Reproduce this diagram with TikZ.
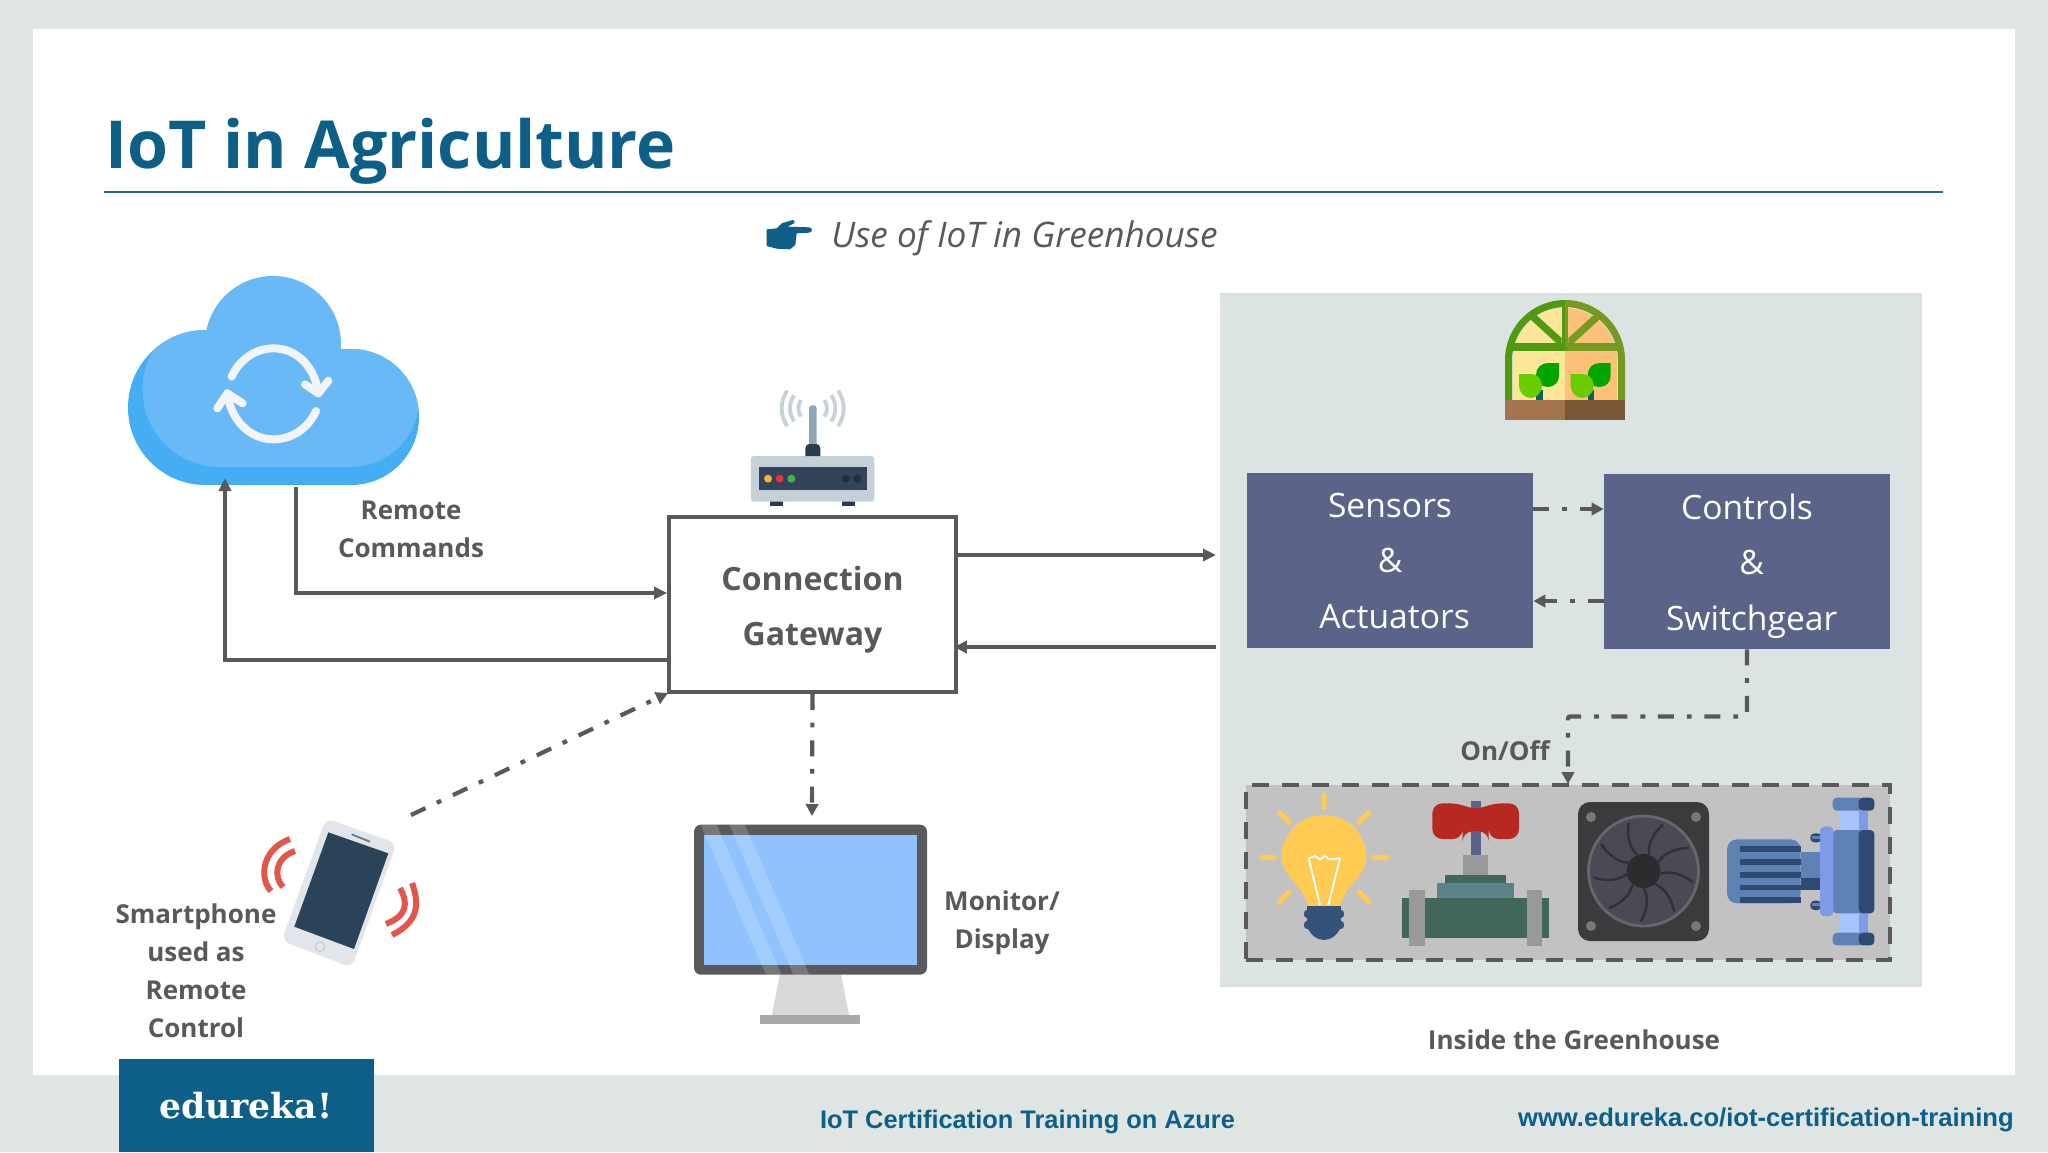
\documentclass[tikz,border=0pt]{standalone}
\usepackage{fontspec}
\setmainfont{Open Sans}
\newfontfamily\arialb{Liberation Sans}[BoldFont={Liberation Sans Bold}]
\newfontfamily\slabf{DejaVu Serif}
\usetikzlibrary{arrows.meta,calc}
\definecolor{pagebg}{HTML}{DEE5E3}
\definecolor{brand}{HTML}{0E5F87}
\definecolor{rulec}{HTML}{2F6B7E}
\definecolor{txt}{HTML}{595959}
\definecolor{conn}{HTML}{595959}
\definecolor{cloudA}{HTML}{45ADF3}
\definecolor{cloudB}{HTML}{68B9F5}
\definecolor{synw}{HTML}{F2F4F7}
\definecolor{slate}{HTML}{5B6488}
\definecolor{ghpanel}{HTML}{DCE3E3}
\definecolor{devbox}{HTML}{C2C2C2}
\definecolor{pumpA}{HTML}{5F82B4}
\definecolor{pumpB}{HTML}{2F4A72}
\definecolor{pumpC}{HTML}{7F9BE8}
\definecolor{pumpD}{HTML}{A8C4FF}
\definecolor{redarc}{HTML}{E2574C}
\tikzset{
  x=0.5pt,y=-0.5pt,
  hexc/.code={\definecolor{tmpc}{HTML}{#1}\pgfkeysalso{/tikz/color=tmpc}},
  zoomat/.style={shift={(#1)},x=0.16667pt,y=-0.16667pt},
  lbl/.style={inner sep=0pt,align=center,text=txt,font=\bfseries\fontsize{13}{19}\selectfont},
  boxtxt/.style={inner sep=0pt,align=center,text=white,font=\fontsize{16.8}{27.75}\selectfont},
  solidconn/.style={draw=conn,line width=1.8pt,-{Triangle[length=6.5pt,width=6pt]}},
  dashconn/.style={draw=conn,line width=2.1pt,dash pattern=on 8pt off 6.3pt on 2.4pt off 6.5pt,-{Triangle[length=6pt,width=6.2pt]}},
  slatebox/.style={fill=slate,inner sep=0pt},
}
\begin{document}
\begin{tikzpicture}
\useasboundingbox (0,0) rectangle (2048,1152);
\fill[pagebg] (0,0) rectangle (2048,1152);
\fill[white] (33,29) rectangle (2015,1075);
% title
\node[anchor=base west,inner sep=0pt,text=brand,font=\bfseries\fontsize{33.1}{36}\selectfont] (title) at (105,168) {IoT in Agriculture};
\coordinate (ruleL) at (104,192);
\coordinate (ruleR) at (1943,192);
\draw[rulec,line width=1pt] (ruleL) -- (ruleR);
\node[anchor=base west,inner sep=0pt,text=txt,font=\itshape\fontsize{17.6}{20}\selectfont] (subtitle) at (831,247.5) {Use of IoT in Greenhouse};
% hand
\begin{scope}[zoomat={680,200}]
\fill[brand] (260,88) -- (290,85) -- (305,70) -- (338,60) .. controls (346,62) and (346,70) .. (338,72) -- (322,80) -- (388,82) .. controls (398,84) and (398,96) .. (388,98) -- (350,100) -- (346,135) -- (330,148) -- (290,146) -- (260,138) -- cycle;
\end{scope}
% cloud
\fill[cloudA] (205.5,407.5) circle[radius=77.5];
\fill[cloudA] (351,417) circle[radius=68];
\fill[cloudA] (205.5,349) rectangle (351,485);
\fill[cloudB] (273,344) circle[radius=68];
\begin{scope}
\clip (205.5,407.5) circle[radius=77.5];
\fill[cloudB] (220,389.5) circle[radius=77.5];
\end{scope}
\begin{scope}
\clip (351,417) circle[radius=68];
\fill[cloudB] (351,399) circle[radius=68];
\end{scope}
\fill[cloudB] (220,349.5) rectangle (351,467);
\begin{scope}[zoomat={100,250}]
\draw[synw,line width=4pt,line cap=round,line join=round] (395,380) .. controls (420,325) and (470,295) .. (520,295) .. controls (590,295) and (645,350) .. (655,430);
\draw[synw,line width=4pt,line cap=round,line join=round] (615,403) -- (655,430) -- (685,392);
\draw[synw,line width=4pt,line cap=round,line join=round] (648,483) .. controls (625,535) and (575,568) .. (520,568) .. controls (450,568) and (392,510) .. (382,430);
\draw[synw,line width=4pt,line cap=round,line join=round] (352,475) -- (382,430) -- (428,460);
\end{scope}
% router
\begin{scope}[zoomat={680,200}]
\foreach \ra in {43,68,93}{
  \draw[hexc=C8D1D5,line width=1.9pt] ($(398,625)+(35:\ra)$) arc[start angle=35,end angle=-35,radius=\ra];
  \draw[hexc=C8D1D5,line width=1.9pt] ($(398,625)+(145:\ra)$) arc[start angle=145,end angle=215,radius=\ra];
}
\fill[hexc=2B3A4E] (270,900) rectangle (310,917);
\fill[hexc=2B3A4E] (486,900) rectangle (526,917);
\fill[hexc=C4D1D9,rounded corners=1.5pt] (213,768) rectangle (583,905);
\fill[hexc=33435A] (236,802) rectangle (560,870);
\fill[hexc=8FA6B8,rounded corners=1.5pt] (387,616) rectangle (410,740);
\fill[hexc=2B3A4E] (376,768) -- (376,745) .. controls (376,737) and (382,732) .. (388,732) -- (409,732) .. controls (415,732) and (421,737) .. (421,745) -- (421,768) -- cycle;
\fill[hexc=F5B335] (264,836) circle[radius=12];
\fill[hexc=E8303A] (299,836) circle[radius=12];
\fill[hexc=3FB54A] (334,836) circle[radius=12];
\fill[hexc=1E2E44] (497,836) circle[radius=12];
\fill[hexc=1E2E44] (532,836) circle[radius=12];
\end{scope}
% gateway
\node[draw=conn,line width=1.9pt,fill=white,minimum width=143.5pt,minimum height=87.5pt,inner sep=0pt,align=center,text=txt,font=\bfseries\fontsize{16}{27.5}\selectfont] (gateway) at (812.5,604.5) {\rule{0pt}{17.7pt}Connection\\Gateway};
% greenhouse panel
\node[fill=ghpanel,draw=black!12,line width=.5pt,minimum width=350.5pt,minimum height=346.5pt,inner sep=0pt] (panel) at (1570.5,639.5) {};
% greenhouse icon
\begin{scope}
\fill[hexc=FDE59A] (1565,308) arc[start angle=-90,end angle=-180,radius=52] -- (1513,400) -- (1565,400) -- cycle;
\fill[hexc=FDC27A] (1565,308) arc[start angle=-90,end angle=0,radius=52] -- (1617,400) -- (1565,400) -- cycle;
\fill[hexc=4F9A10,even odd rule] (1565,300) arc[start angle=-90,end angle=-180,radius=60] -- (1505,400) -- (1512,400) -- (1512,360) arc[start angle=-180,end angle=-90,radius=53] -- (1565,300);
\fill[hexc=76991F] (1565,300) arc[start angle=-90,end angle=0,radius=60] -- (1625,400) -- (1618,400) -- (1618,360) arc[start angle=0,end angle=-90,radius=53] -- (1565,300);
\fill[hexc=4F9A10] (1510,343) rectangle (1565,351);
\fill[hexc=76991F] (1565,343) rectangle (1620,351);
\fill[hexc=4F9A10] (1561.7,300) rectangle (1565,351);
\fill[hexc=76991F] (1565,300) rectangle (1568.3,351);
\fill[hexc=4F9A10] (1561.7,338) -- (1561.7,348) -- (1530,319) -- (1534,313) -- cycle;
\fill[hexc=76991F] (1568.3,338) -- (1568.3,348) -- (1600,319) -- (1596,313) -- cycle;
\fill[hexc=A3754F] (1505,400) rectangle (1565,420);
\fill[hexc=795736] (1565,400) rectangle (1625,420);
\foreach \d in {0,51.7}{
  \begin{scope}[xshift=\d*0.5pt]
  \fill[hexc=0E5F5F] (1536,390) rectangle (1542.5,400);
  \fill[hexc=00A500] (1559,363) -- (1548,363) .. controls (1541,363) and (1536,368) .. (1536,375) .. controls (1536,382) and (1541,387) .. (1548,387) .. controls (1554,387) and (1559,382) .. (1559,376) -- cycle;
  \fill[hexc=6ACD00] (1519,374) -- (1531,374) .. controls (1537,374) and (1542,379) .. (1542,386) .. controls (1542,392) and (1537,398) .. (1531,398) .. controls (1524,398) and (1519,392) .. (1519,386) -- cycle;
  \end{scope}
}
\end{scope}
% sensors & controls
\node[slatebox,minimum width=143pt,minimum height=87.5pt,boxtxt] (sensors) at (1390,560.5) {Sensors\\\&\\\hspace*{4.6pt}Actuators};
\node[slatebox,minimum width=143pt,minimum height=87.5pt,boxtxt] (controls) at (1747,561.5) {\rule{0pt}{17.5pt}Controls\\\hspace*{4.6pt}\&\\\hspace*{4.6pt}Switchgear};
% device box
\node[fill=devbox,draw=conn,line width=2pt,dash pattern=on 8.5pt off 6.5pt,minimum width=322pt,minimum height=87.5pt,inner sep=0pt] (devices) at (1568,872.5) {};
% bulb
\begin{scope}[zoomat={1230,770}]
\draw[hexc=FFCB52,line width=2.6pt,line cap=round]
  (282,75) -- (282,112) (95,262) -- (133,262) (432,262) -- (470,262)
  (149,129) -- (177,157) (415,129) -- (387,157) (149,396) -- (177,366) (415,396) -- (387,366);
\fill[hexc=FFCB52] (282,135) .. controls (212,135) and (155,192) .. (155,262) .. controls (155,320) and (232,360) .. (232,410) -- (332,410) .. controls (332,360) and (409,320) .. (409,262) .. controls (409,192) and (352,135) .. (282,135) -- cycle;
\draw[white,line width=.9pt,line join=round] (270,405) -- (236,265) -- (255,258) -- (270,268) -- (285,258) -- (298,268) -- (330,265) -- (295,405);
\fill[hexc=35527A] (232,408) rectangle (332,475);
\fill[hexc=35527A,rounded corners=1.6pt] (222,420) rectangle (342,444);
\fill[hexc=35527A,rounded corners=1.6pt] (222,453) rectangle (342,477);
\fill[hexc=35527A] (232,470) .. controls (240,495) and (262,510) .. (282,510) .. controls (302,510) and (324,495) .. (332,470) -- cycle;
% valve
\fill[slate] (722,92) rectangle (752,255);
\fill[hexc=B72820,rounded corners=5pt] (607,207) -- (607,100) -- (690,100) -- (737,122) -- (785,100) -- (867,100) -- (867,207) -- (776,207) -- (776,184) -- (698,184) -- (698,207) -- cycle;
\fill[slate] (722,184) rectangle (752,255);
\fill[hexc=999999] (698,255) rectangle (775,315);
\fill[hexc=41665A] (645,315) rectangle (828,338);
\fill[hexc=5A8288] (622,338) rectangle (852,383);
\fill[hexc=41665A] (516,383) rectangle (958,505);
\fill[hexc=999999] (538,360) rectangle (584,527);
\fill[hexc=999999] (890,360) rectangle (936,527);
\end{scope}
% fan
\fill[hexc=3A3B3D,rounded corners=6pt] (1578,802) rectangle (1709,941);
\foreach \xx/\yy in {1591/817,1591/926,1696/817,1696/926}{\fill[hexc=77787A] (\xx,\yy) circle[radius=5];}
\fill[hexc=4A4A55] (1643.5,871) circle[radius=55];
\draw[hexc=66676C,line width=1.4pt] (1643.5,871) circle[radius=55];
\foreach \a in {0,40,...,320}{
  \begin{scope}[shift={(1643.5,871)},rotate=\a]
  \draw[hexc=303035,line width=1.2pt] (15,-9) .. controls (20,-18) and (33,-23) .. (45,-23);
  \end{scope}
}
\fill[hexc=2C2C2E] (1643.5,871) circle[radius=17];
% pump
\begin{scope}[zoomat={1630,770}]
\fill[pumpA,rounded corners=5pt] (291,208) rectangle (512,400);
\foreach \ya/\yb in {228/246,266/284,305/323,344/361}{\fill[pumpB] (330,\ya) rectangle (512,\yb);}
\fill[pumpB] (330,382) rectangle (512,400);
\fill[pumpA] (512,247) rectangle (570,323);
\fill[pumpB] (512,323) rectangle (570,360);
\fill[pumpB,rounded corners=2pt] (541,190) rectangle (575,217);
\fill[pumpB,rounded corners=2pt] (541,392) rectangle (575,420);
\fill[pumpA] (546,197) rectangle (570,208);
\fill[pumpA] (546,398) rectangle (570,409);
\fill[pumpD] (628,122) rectangle (686,180);
\fill[pumpC] (686,122) rectangle (714,180);
\fill[pumpD] (628,430) rectangle (686,488);
\fill[pumpC] (686,430) rectangle (714,488);
\fill[pumpA,rounded corners=2pt] (608,180) rectangle (700,430);
\fill[pumpB,rounded corners=2pt] (686,180) rectangle (733,430);
\fill[pumpC,rounded corners=2pt] (570,170) rectangle (610,438);
\fill[pumpA,rounded corners=2pt] (608,83) rectangle (700,122);
\fill[pumpB,rounded corners=2pt] (686,83) rectangle (733,122);
\fill[pumpA,rounded corners=2pt] (608,488) rectangle (700,526);
\fill[pumpB,rounded corners=2pt] (686,488) rectangle (733,526);
\end{scope}
% monitor
\begin{scope}[zoomat={680,810}]
\fill[hexc=D8D9DA] (300,490) -- (482,490) -- (507,615) -- (276,615) -- cycle;
\fill[hexc=A9A9A9] (241,615) rectangle (541,643);
\fill[hexc=5A5A5C,rounded corners=3.5pt] (42,44) rectangle (741,494);
\fill[hexc=90C2FF] (72,74) rectangle (711,464);
\fill[white,opacity=.18] (62,44) -- (110,44) -- (305,494) -- (258,494) -- cycle;
\fill[white,opacity=.18] (148,44) -- (195,44) -- (388,494) -- (340,494) -- cycle;
\end{scope}
% phone
\begin{scope}[zoomat={240,800}]
\fill[hexc=E2E5EA,rounded corners=4pt] (258,55) -- (470,130) -- (335,503) -- (125,422) -- cycle;
\fill[hexc=2B4358] (265,97) -- (445,160) -- (342,447) -- (163,380) -- cycle;
\draw[hexc=6C7A88,line width=.9pt] (335,103) -- (390,125);
\draw[hexc=C9CDD2,line width=.6pt] (240,440) circle[radius=14];
\end{scope}
\begin{scope}[line width=3pt]
\draw[redarc] (290,839) .. controls (260,850) and (260,880) .. (271,891);
\draw[redarc] (295,851) .. controls (274,858) and (274,878) .. (283,887);
\draw[redarc] (412,883) .. controls (420,905) and (418,922) .. (392,935);
\draw[redarc] (400,888) .. controls (408,903) and (408,915) .. (386,924);
\end{scope}
% connectors
\coordinate (cloudin) at (225,478);
\coordinate (cloudout) at (296,487);
\coordinate (gwBackY) at (0,660);
\coordinate (gwCmdY) at (0,593);
\coordinate (panelInY) at (0,555);
\coordinate (panelOutY) at (0,647);
\coordinate (phoneEnd) at (411,815);
\coordinate (gwCorner) at (668,693);
\coordinate (monitorTop) at (812,816);
\coordinate (devDrop) at (1568,784);
\coordinate (panelInE) at (1216,555);
\coordinate (panelOutS) at (1216,647);
\coordinate (linkA) at (0,509);
\coordinate (linkB) at (0,601);
\draw[solidconn] (gateway.west |- gwBackY) -| (cloudin);
\draw[solidconn] (cloudout) |- (gateway.west |- gwCmdY);
\draw[solidconn] (gateway.east |- panelInY) -- (panelInE);
\draw[solidconn,shorten >=-2pt] (panelOutS) -- (gateway.east |- panelOutY);
\draw[dashconn] (phoneEnd) -- (gwCorner);
\draw[dashconn] (gateway.south) -- (monitorTop);
\draw[dashconn] (sensors.east |- linkA) -- (controls.west |- linkA);
\draw[dashconn] (controls.west |- linkB) -- (sensors.east |- linkB);
\draw[dashconn,rounded corners=1pt] (controls.south) -- ++(0,67) -| (devDrop);
% labels
\node[lbl] (remote) at (411,529) {Remote\\Commands};
\node[lbl] (phonelbl) at (196,971) {Smartphone\\used as\\Remote\\Control};
\node[lbl] (monlbl) at (1002,922.5) {Monitor/\\Display};
\node[lbl] (onoff) at (1505,751) {On/Off};
\node[lbl] (inside) at (1574,1040) {Inside the Greenhouse};
% footer
\node[fill=brand,minimum width=127.5pt,minimum height=46.5pt,inner sep=0pt,text=white,font=\slabf\bfseries\fontsize{17.3}{20}\selectfont] (logo) at (246,1105.5) {edureka!};
\node[inner sep=0pt,text=brand,font=\arialb\bfseries\fontsize{12.7}{16}\selectfont] (course) at (1027.5,1121.5) {IoT Certification Training on Azure};
\node[inner sep=0pt,anchor=east,text=brand,font=\arialb\bfseries\fontsize{12.8}{16}\selectfont] (url) at (2014,1119.5) {www.edureka.co/iot-certification-training};
\end{tikzpicture}
\end{document}
